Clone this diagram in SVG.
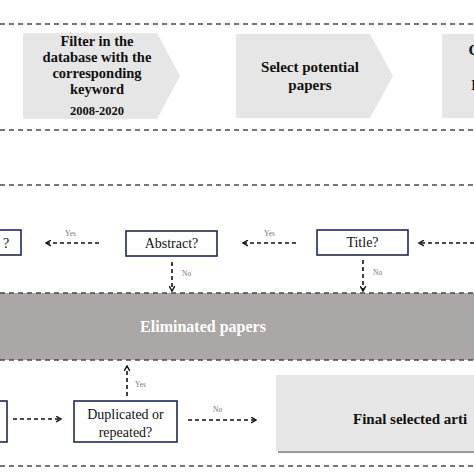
<svg xmlns="http://www.w3.org/2000/svg" width="474" height="474" viewBox="0 0 474 474">
<defs>
<style>
.dash{stroke:#4a4a4a;stroke-width:1.6;stroke-dasharray:5,4;fill:none}
.chev{fill:#e6e6e6}
.t{font-family:"Liberation Serif",serif;font-weight:bold;fill:#111;text-anchor:middle}
.box{fill:#fff;stroke:#1f2a55;stroke-width:1.6}
.bt{font-family:"Liberation Serif",serif;fill:#111;text-anchor:middle;font-size:14px}
.conn{stroke:#111;stroke-width:1.6;stroke-dasharray:4,3;fill:none}
.lab{font-family:"Liberation Serif",serif;fill:#777;font-size:7.5px}
</style>
<marker id="ah" viewBox="0 0 10 10" refX="9" refY="5" markerWidth="7" markerHeight="7" markerUnits="userSpaceOnUse" orient="auto">
<polyline points="2,1 9,5 2,9" fill="none" stroke="#111" stroke-width="2"/>
</marker>
</defs>
<g id="frames">
<line class="dash" x1="0" y1="24" x2="474" y2="24"/>
<line class="dash" x1="0" y1="130" x2="474" y2="130"/>
<line class="dash" x1="0" y1="185" x2="474" y2="185"/>
<line class="dash" x1="0" y1="466" x2="474" y2="466"/>
</g>
<g id="node-filter">
<polygon class="chev" points="23,33 157,33 180,76 157,119 23,119"/>
<text class="t" font-size="14.5" x="97" y="46">Filter in the</text>
<text class="t" font-size="14.5" x="97" y="62">database with the</text>
<text class="t" font-size="14.5" x="97" y="78">corresponding</text>
<text class="t" font-size="14.5" x="97" y="94">keyword</text>
<text class="t" font-size="12.5" x="97" y="115">2008-2020</text>
</g>
<g id="node-select">
<polygon class="chev" points="236,34 370,34 393,76 370,118 236,118"/>
<text class="t" font-size="15" x="310" y="72">Select potential</text>
<text class="t" font-size="15" x="310" y="90">papers</text>
</g>
<g id="node-third">
<rect class="chev" x="442" y="34" width="40" height="84"/>
<text class="t" font-size="15" x="474" y="55">C</text>
<text class="t" font-size="15" x="474" y="90">I</text>
</g>
<g id="node-eliminated">
<rect x="0" y="293" width="474" height="67" fill="#aba7a6"/>
<line class="dash" x1="0" y1="293" x2="474" y2="293"/>
<line class="dash" x1="0" y1="360" x2="474" y2="360"/>
<text class="t" font-size="16" x="203" y="332" style="fill:#fff">Eliminated papers</text>
</g>
<g id="node-left-q">
<rect class="box" x="-20" y="230" width="41" height="25"/>
<text class="bt" x="6" y="248" font-size="15">?</text>
</g>
<g id="node-abstract">
<rect class="box" x="126" y="231" width="91" height="25"/>
<text class="bt" x="171.5" y="248" font-size="15">Abstract?</text>
</g>
<g id="node-title">
<rect class="box" x="317" y="230" width="91" height="25"/>
<text class="bt" x="362.5" y="247" font-size="15">Title?</text>
</g>
<g id="node-left-b">
<rect class="box" x="-30" y="401" width="37" height="41"/>
</g>
<g id="node-duplicated">
<rect class="box" x="74" y="401" width="103" height="41"/>
<text class="bt" x="125.5" y="419">Duplicated or</text>
<text class="bt" x="125.5" y="437">repeated?</text>
</g>
<g id="node-final">
<rect x="278" y="377" width="200" height="76" fill="#9a9a9a"/>
<rect x="276" y="375" width="200" height="76" fill="#e6e6e6"/>
<text class="t" font-size="15" x="353" y="424" style="text-anchor:start">Final selected arti</text>
</g>
<g id="connectors">
<line class="conn" x1="474" y1="243" x2="419" y2="243" marker-end="url(#ah)"/>
<line class="conn" x1="296" y1="243" x2="243" y2="243" marker-end="url(#ah)"/>
<text class="lab" x="264" y="236">Yes</text>
<line class="conn" x1="99" y1="243" x2="46" y2="243" marker-end="url(#ah)"/>
<text class="lab" x="65" y="236">Yes</text>
<line class="conn" x1="172" y1="262" x2="172" y2="291" marker-end="url(#ah)"/>
<text class="lab" x="182" y="276">No</text>
<line class="conn" x1="363" y1="260" x2="363" y2="291" marker-end="url(#ah)"/>
<text class="lab" x="373" y="275">No</text>
<line class="conn" x1="13" y1="419" x2="61" y2="419" marker-end="url(#ah)"/>
<line class="conn" x1="188" y1="420" x2="256" y2="420" marker-end="url(#ah)"/>
<text class="lab" x="213" y="412">No</text>
<line class="conn" x1="127" y1="396" x2="127" y2="366" marker-end="url(#ah)"/>
<text class="lab" x="135" y="387">Yes</text>
</g>
</svg>
